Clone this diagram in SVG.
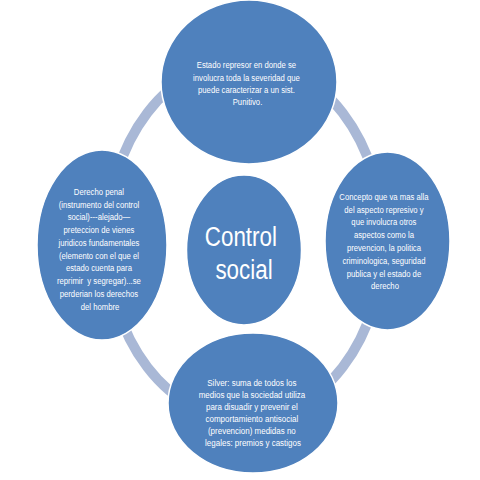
<svg xmlns="http://www.w3.org/2000/svg" width="480" height="480" viewBox="0 0 480 480">
<style>
.node{fill:#4F81BD;stroke:#FFFFFF;stroke-width:1.5}
.ring{fill:none;stroke:#A9B8D6;stroke-width:10}
.t{fill:#FFFFFF;font-family:"Liberation Sans",Arial,sans-serif;font-size:9.3px;text-anchor:middle}
.big{fill:#FFFFFF;font-family:"Liberation Sans",Arial,sans-serif;font-size:28px;text-anchor:middle}
</style>
<rect width="480" height="480" fill="#FFFFFF"/>
<g id="connectors">
<ellipse class="ring" cx="245" cy="240" rx="138" ry="180"/>
</g>
<g id="node-top">
<ellipse class="node" cx="249" cy="82" rx="88" ry="82"/>
<text class="t" transform="translate(247.5,0) scale(0.83,1)">
<tspan x="0" y="68.5">Estado represor en donde se</tspan>
<tspan x="0" y="80.7">involucra toda la severidad que</tspan>
<tspan x="0" y="92.9">puede caracterizar a un sist.</tspan>
<tspan x="0" y="105.1">Punitivo.</tspan>
</text>
</g>
<g id="node-left">
<ellipse class="node" cx="102" cy="245" rx="65" ry="95"/>
<text class="t" transform="translate(100,0) scale(0.83,1)">
<tspan x="0" y="195">Derecho penal</tspan>
<tspan x="0" y="207.8">(instrumento del control</tspan>
<tspan x="0" y="220.5">social)---alejado—</tspan>
<tspan x="0" y="233.3">preteccion de vienes</tspan>
<tspan x="0" y="246">juridicos fundamentales</tspan>
<tspan x="0" y="258.8">(elemento con el que el</tspan>
<tspan x="0" y="271.5">estado cuenta para</tspan>
<tspan x="0" y="284.3">reprimir &#160;y segregar)...se</tspan>
<tspan x="0" y="297">perderian los derechos</tspan>
<tspan x="0" y="309.8">del hombre</tspan>
</text>
</g>
<g id="node-right">
<ellipse class="node" cx="387.5" cy="241" rx="62.5" ry="89"/>
<text class="t" transform="translate(385,0) scale(0.83,1)">
<tspan x="0" y="200">Concepto que va mas alla</tspan>
<tspan x="0" y="212.8">del aspecto represivo y</tspan>
<tspan x="0" y="225.5">que involucra otros</tspan>
<tspan x="0" y="238.3">aspectos como la</tspan>
<tspan x="0" y="251">prevencion, la politica</tspan>
<tspan x="0" y="263.8">criminologica, seguridad</tspan>
<tspan x="0" y="276.6">publica y el estado de</tspan>
<tspan x="0" y="289.3">derecho</tspan>
</text>
</g>
<g id="node-bottom">
<ellipse class="node" cx="253" cy="403" rx="85" ry="70"/>
<text class="t" transform="translate(253,0) scale(0.86,1)">
<tspan x="0" y="386.5">Silver: suma de todos los</tspan>
<tspan x="0" y="398.4">medios que la sociedad utiliza</tspan>
<tspan x="0" y="410.3">para disuadir y prevenir el</tspan>
<tspan x="0" y="422.2">comportamiento antisocial</tspan>
<tspan x="0" y="434.1">(prevencion) medidas no</tspan>
<tspan x="0" y="446">legales: premios y castigos</tspan>
</text>
</g>
<g id="node-center">
<ellipse class="node" cx="244" cy="250" rx="57.5" ry="75"/>
<text class="big" transform="translate(244,0) scale(0.8,1)">
<tspan x="0" y="246">Control</tspan>
<tspan x="0" y="279">social</tspan>
</text>
</g>
</svg>
